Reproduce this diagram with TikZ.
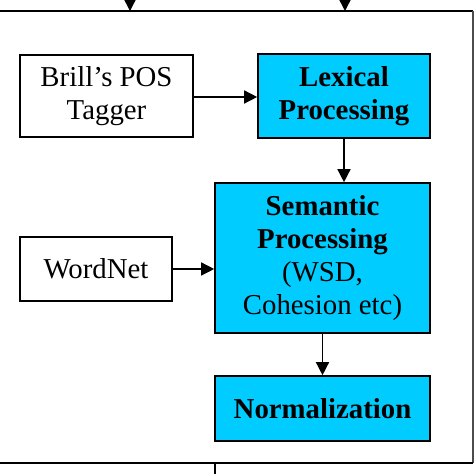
\documentclass[tikz,border=0pt]{standalone}
\usepackage{fontspec}
\setmainfont{Liberation Serif}
\usetikzlibrary{arrows.meta}
\definecolor{procblue}{HTML}{00CCFF}
\begin{document}
\begin{tikzpicture}[x=1pt,y=1pt,
  box/.style={draw=black,line width=1.6pt,minimum width=#1,align=center,inner sep=0pt},
  plain/.style={box=#1,fill=white,font=\fontsize{28.8}{33}\selectfont},
  proc/.style={box=#1,fill=procblue,font=\fontsize{28.8}{33}\selectfont},
  arr/.style={-{Triangle[length=13pt,width=13pt]},line width=1.4pt},
  tarr/.style={-{Triangle[length=11pt,width=11pt]},line width=1.4pt},
  frame/.style={line width=1.6pt}]
\useasboundingbox (0,0) rectangle (474,474);
% frame
\coordinate (tl) at (0,463);
\coordinate (tr) at (473,463);
\coordinate (br) at (473,11);
\coordinate (bl) at (0,11);
\coordinate (bm) at (215,11);
\coordinate (bmd) at (215,0);
\draw[frame] (tl) -- (tr);
\draw[frame,draw=black!70] (tr) -- (br);
\draw[frame] (br) -- (bl);
\draw[frame] (bm) -- (bmd);
\coordinate (in1s) at (130,474);
\coordinate (in1e) at (130,463);
\coordinate (in2s) at (345,474);
\coordinate (in2e) at (345,463);
\draw[tarr] (in1s) -- (in1e);
\draw[tarr] (in2s) -- (in2e);
% nodes
\node[plain=173pt,minimum height=82pt] (brill) at (106.5,378) {Brill’s POS\\Tagger};
\node[proc=172pt,minimum height=84pt] (lex) at (344,378) {\textbf{Lexical}\\\textbf{Processing}};
\node[proc=215pt,minimum height=150pt] (sem) at (322.5,216) {\textbf{Semantic}\\\textbf{Processing}\\(WSD,\\Cohesion etc)};
\node[plain=152pt,minimum height=64pt] (wn) at (96,205) {WordNet};
\node[proc=215pt,minimum height=65pt] (norm) at (322.5,65.5) {\textbf{Normalization}};
% connectors
\coordinate (bl1) at ([yshift=-1pt]brill.east);
\draw[arr] (bl1) -- (bl1 -| lex.west);
\draw[arr] (lex.south) -- (lex.south |- sem.north);
\draw[arr] (wn.east) -- (wn.east -| sem.west);
\coordinate (ss) at (sem.south);
\coordinate (nn) at (norm.north);
\draw[arr] (ss) -- (nn);
\end{tikzpicture}
\end{document}
